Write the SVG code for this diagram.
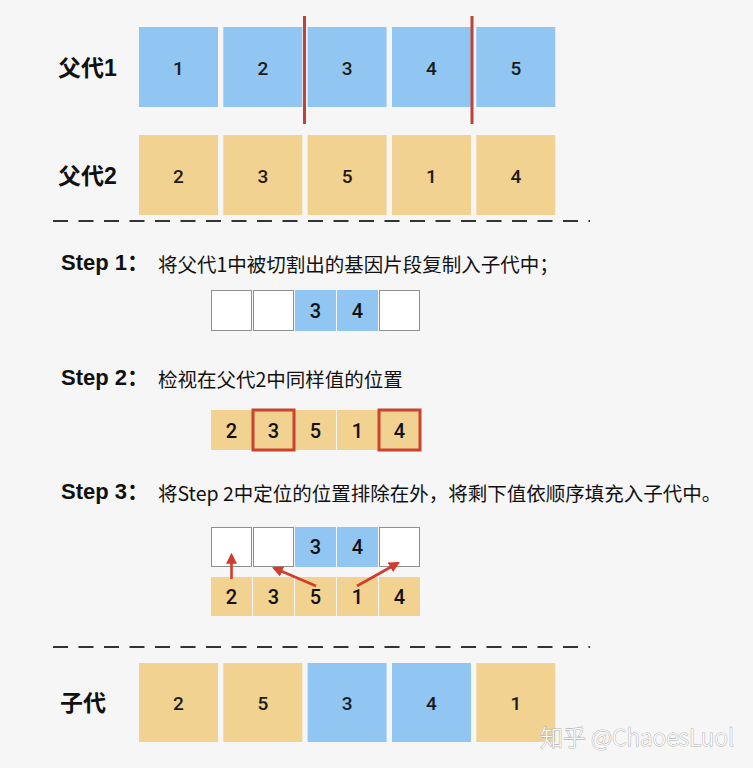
<svg xmlns="http://www.w3.org/2000/svg" width="753" height="768" viewBox="0 0 753 768">
<style>
.bg{fill:#f6f6f6}
.blue{fill:#92c6f2}
.org{fill:#f2d290}
.empty{fill:#ffffff;stroke:#8f8f8f;stroke-width:1}
.num{font-family:Roboto,"Liberation Sans",sans-serif;font-size:19px;font-weight:500;fill:#1a1a1a;text-anchor:middle;dominant-baseline:central}
.snum{font-family:Roboto,"Liberation Sans",sans-serif;font-size:20px;font-weight:500;fill:#111;text-anchor:middle;dominant-baseline:central}
.lbl{font-family:"Liberation Sans","Noto Sans CJK SC",sans-serif;font-size:23px;font-weight:bold;fill:#111;dominant-baseline:central}
.step{font-family:"Liberation Sans","Noto Sans CJK SC",sans-serif;font-size:22px;font-weight:bold;fill:#111;dominant-baseline:central}
.desc{font-family:"Noto Sans CJK SC",sans-serif;font-size:19.5px;font-weight:400;fill:#111;dominant-baseline:central}
.dash{stroke:#333;stroke-width:2;stroke-dasharray:15 10.5;fill:none}
.cut{stroke:#c0413a;stroke-width:3}
.hl{fill:none;stroke:#c9432f;stroke-width:3}
.arr{stroke:#d23c2c;stroke-width:2.6;fill:none;marker-end:url(#ah)}
.wm{font-family:"Noto Sans CJK SC",sans-serif;font-size:23px;font-weight:300;fill:#ffffff;stroke:#b5b5b5;stroke-width:1.1;paint-order:stroke;dominant-baseline:central}
</style>
<defs>
<marker id="ah" viewBox="0 0 10 10" refX="8" refY="5" markerWidth="11" markerHeight="11" markerUnits="userSpaceOnUse" orient="auto">
<path d="M0,0 L10,5 L0,10 Z" fill="#d23c2c"/>
</marker>
</defs>
<rect class="bg" x="0" y="0" width="753" height="768"/>

<g id="parent1">
<text class="lbl" x="58" y="68">父代1</text>
<rect class="blue" x="139" y="27" width="79" height="80"/><text class="num" x="178.5" y="68">1</text>
<rect class="blue" x="223.3" y="27" width="79" height="80"/><text class="num" x="262.8" y="68">2</text>
<rect class="blue" x="307.6" y="27" width="79" height="80"/><text class="num" x="347.1" y="68">3</text>
<rect class="blue" x="392" y="27" width="79" height="80"/><text class="num" x="431.5" y="68">4</text>
<rect class="blue" x="476.3" y="27" width="79" height="80"/><text class="num" x="515.8" y="68">5</text>
</g>

<g id="cuts">
<line class="cut" x1="304.5" y1="16" x2="304.5" y2="124"/>
<line class="cut" x1="472" y1="16" x2="472" y2="124"/>
</g>

<g id="parent2">
<text class="lbl" x="58" y="176">父代2</text>
<rect class="org" x="139" y="135" width="79" height="80"/><text class="num" x="178.5" y="176">2</text>
<rect class="org" x="223.3" y="135" width="79" height="80"/><text class="num" x="262.8" y="176">3</text>
<rect class="org" x="307.6" y="135" width="79" height="80"/><text class="num" x="347.1" y="176">5</text>
<rect class="org" x="392" y="135" width="79" height="80"/><text class="num" x="431.5" y="176">1</text>
<rect class="org" x="476.3" y="135" width="79" height="80"/><text class="num" x="515.8" y="176">4</text>
</g>

<line class="dash" x1="53" y1="221" x2="590" y2="221"/>

<g id="step1">
<text class="step" x="61" y="262">Step 1：</text>
<text class="desc" x="158" y="263">将父代1中被切割出的基因片段复制入子代中；</text>
<rect class="empty" x="211.5" y="290.5" width="40" height="40"/>
<rect class="empty" x="253.5" y="290.5" width="40" height="40"/>
<rect class="blue" x="295" y="290" width="41" height="41"/><text class="snum" x="315.5" y="311">3</text>
<rect class="blue" x="337" y="290" width="41" height="41"/><text class="snum" x="357.5" y="311">4</text>
<rect class="empty" x="379.5" y="290.5" width="40" height="40"/>
</g>

<g id="step2">
<text class="step" x="61" y="377">Step 2：</text>
<text class="desc" x="158" y="378">检视在父代2中同样值的位置</text>
<rect class="org" x="211" y="410" width="41" height="40"/><text class="snum" x="231.5" y="431">2</text>
<rect class="org" x="253" y="410" width="41" height="40"/><text class="snum" x="273.5" y="431">3</text>
<rect class="org" x="295" y="410" width="41" height="40"/><text class="snum" x="315.5" y="431">5</text>
<rect class="org" x="337" y="410" width="41" height="40"/><text class="snum" x="357.5" y="431">1</text>
<rect class="org" x="379" y="410" width="41" height="40"/><text class="snum" x="399.5" y="431">4</text>
<rect class="hl" x="253" y="410" width="41" height="40"/>
<rect class="hl" x="379" y="410" width="41" height="40"/>
</g>

<g id="step3">
<text class="step" x="61" y="491">Step 3：</text>
<text class="desc" x="158" y="492">将Step 2中定位的位置排除在外，将剩下值依顺序填充入子代中。</text>
<rect class="empty" x="211.5" y="527.5" width="40" height="39"/>
<rect class="empty" x="253.5" y="527.5" width="40" height="39"/>
<rect class="blue" x="295" y="527" width="41" height="40"/><text class="snum" x="315.5" y="547">3</text>
<rect class="blue" x="337" y="527" width="41" height="40"/><text class="snum" x="357.5" y="547">4</text>
<rect class="empty" x="379.5" y="527.5" width="40" height="39"/>
<rect class="org" x="211" y="577" width="41" height="39"/><text class="snum" x="231.5" y="597">2</text>
<rect class="org" x="253" y="577" width="41" height="39"/><text class="snum" x="273.5" y="597">3</text>
<rect class="org" x="295" y="577" width="41" height="39"/><text class="snum" x="315.5" y="597">5</text>
<rect class="org" x="337" y="577" width="41" height="39"/><text class="snum" x="357.5" y="597">1</text>
<rect class="org" x="379" y="577" width="41" height="39"/><text class="snum" x="399.5" y="597">4</text>
</g>

<g id="connectors">
<line class="arr" x1="231.5" y1="579" x2="231.5" y2="555"/>
<line class="arr" x1="316" y1="586" x2="274" y2="568"/>
<line class="arr" x1="357" y1="586" x2="398" y2="563"/>
</g>

<line class="dash" x1="53" y1="647" x2="590" y2="647"/>

<g id="offspring">
<text class="lbl" x="60" y="703">子代</text>
<rect class="org" x="139" y="663" width="79" height="79"/><text class="num" x="178.5" y="703">2</text>
<rect class="org" x="223.3" y="663" width="79" height="79"/><text class="num" x="262.8" y="703">5</text>
<rect class="blue" x="307.6" y="663" width="79" height="79"/><text class="num" x="347.1" y="703">3</text>
<rect class="blue" x="392" y="663" width="79" height="79"/><text class="num" x="431.5" y="703">4</text>
<rect class="org" x="476.3" y="663" width="79" height="79"/><text class="num" x="515.8" y="703">1</text>
</g>

<text class="wm" x="540" y="736">知乎 @ChaoesLuol</text>
</svg>
